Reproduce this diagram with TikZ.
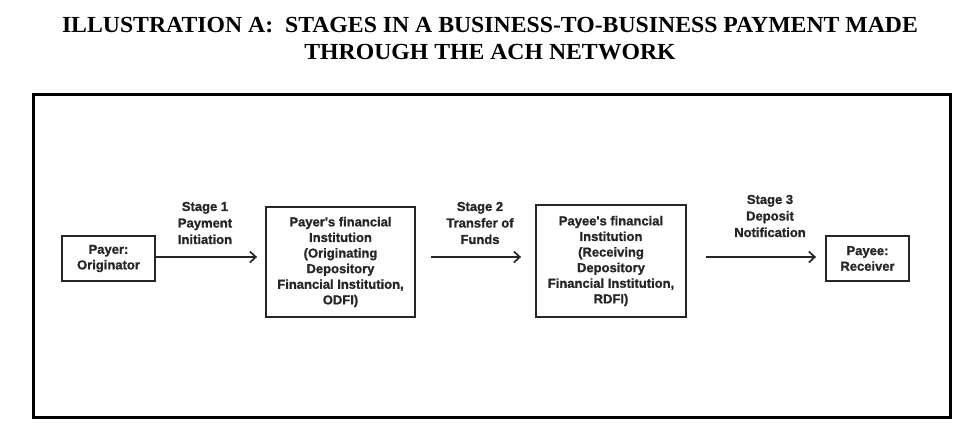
\documentclass[tikz,border=0pt]{standalone}
\usepackage{fontspec}
\usepackage{graphicx}
\setmainfont{Liberation Serif}
\newfontfamily\boxfont[FakeBold=1.2]{Liberation Sans Bold}
\usetikzlibrary{arrows.meta}
\newlength{\titlew}
\settowidth{\titlew}{\fontsize{23}{27}\selectfont\bfseries ILLUSTRATION A:\ \ STAGES IN A BUSINESS-TO-BUSINESS PAYMENT MADE}
\pgfmathsetmacro{\tsx}{856/(\titlew/1pt)}
\begin{document}
\begin{tikzpicture}[x=1pt,y=-1pt,
  stagebox/.style={draw=black!85, line width=1.8pt, align=center, inner sep=0pt,
    font=\boxfont\fontsize{13}{15.6}\selectfont, text=black!85},
  stagelbl/.style={align=center, inner sep=0pt,
    font=\boxfont\fontsize{13}{16.5}\selectfont, text=black!85},
  titletext/.style={font=\fontsize{23}{27}\selectfont\bfseries, inner sep=0pt, anchor=base},
  arr/.style={draw=black!85, line width=1.7pt, -{Straight Barb[length=6pt,width=11pt,line width=1.7pt]}}]
\useasboundingbox (0,0) rectangle (980,430);
\node[titletext] (title1) at (490,33)
  {\scalebox{\tsx}[1]{ILLUSTRATION A:\ \ STAGES IN A BUSINESS-TO-BUSINESS PAYMENT MADE}};
\node[titletext] (title2) at (490,59.5)
  {\scalebox{\tsx}[1]{THROUGH THE ACH NETWORK}};
\draw[line width=3pt, black] (33,95) rectangle (950,417);
\node[stagebox, minimum width=93pt, minimum height=45pt] (b1) at (108.5,258.5) {Payer:\\Originator};
\node[stagebox, minimum width=149pt, minimum height=110pt] (b2) at (340.5,262)
  {Payer's financial\\Institution\\(Originating\\Depository\\Financial Institution,\\ODFI)};
\node[stagebox, minimum width=150pt, minimum height=112pt] (b3) at (611,261)
  {Payee's financial\\Institution\\(Receiving\\Depository\\Financial Institution,\\RDFI)};
\node[stagebox, minimum width=83pt, minimum height=45pt] (b4) at (867.5,258.5) {Payee:\\Receiver};
\coordinate (ay) at (0,257);
\draw[arr, shorten >=8pt] (b1.east |- ay) -- (b2.west |- ay);
\draw[arr, shorten <=15pt, shorten >=14pt] (b2.east |- ay) -- (b3.west |- ay);
\draw[arr, shorten <=19pt, shorten >=9pt] (b3.east |- ay) -- (b4.west |- ay);
\node[stagelbl] (l1) at (205,223) {Stage 1\\Payment\\Initiation};
\node[stagelbl] (l2) at (480,223) {Stage 2\\Transfer of\\Funds};
\node[stagelbl] (l3) at (770,216) {Stage 3\\Deposit\\Notification};
\end{tikzpicture}
\end{document}
